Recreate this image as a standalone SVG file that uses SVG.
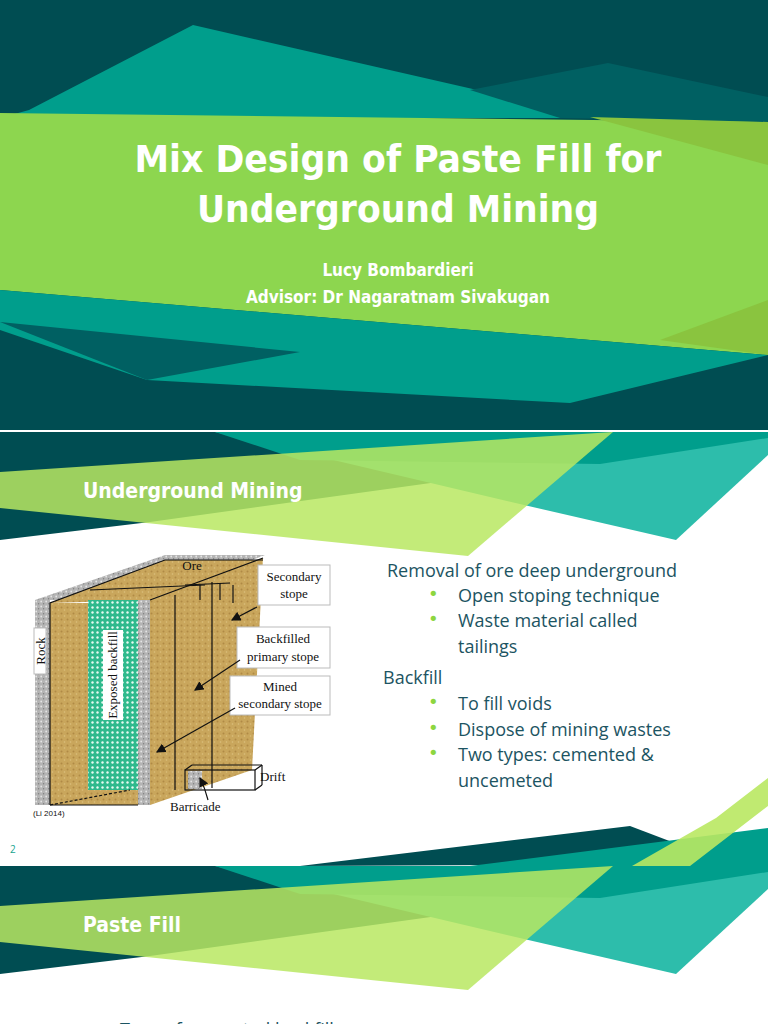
<svg xmlns="http://www.w3.org/2000/svg" width="768" height="1024" viewBox="0 0 768 1024">
<style>
.t{font-family:"DejaVu Sans Condensed","DejaVu Sans",sans-serif;fill:#fff}
.b{font-family:"Open Sans","DejaVu Sans",sans-serif;font-size:18px;fill:#1c5462}
.dot{fill:#8dd63f;font-family:"DejaVu Sans",sans-serif;font-size:18px}
.s{font-family:"Liberation Serif",serif;font-size:13px;fill:#111}
.ln{stroke:#111;stroke-width:1.2;fill:none}
.lb{fill:#fff;stroke:#bbb;stroke-width:1}
</style>
<defs>
<pattern id="tan" width="6" height="6" patternUnits="userSpaceOnUse"><rect width="6" height="6" fill="#c9a65c"/><circle cx="1.5" cy="1.5" r="1" fill="#b08a45"/><circle cx="4.5" cy="4" r="0.8" fill="#dcc07e"/></pattern>
<pattern id="grn" width="5" height="5" patternUnits="userSpaceOnUse"><rect width="5" height="5" fill="#2fb98c"/><circle cx="2.5" cy="2.5" r="1.2" fill="#e8fbf2"/></pattern>
<pattern id="rock" width="5" height="5" patternUnits="userSpaceOnUse"><rect width="5" height="5" fill="#b4b4b4"/><circle cx="1.2" cy="1.5" r="0.9" fill="#e6e6e6"/><circle cx="3.6" cy="3.8" r="0.7" fill="#808080"/></pattern>
<marker id="ah" markerWidth="8" markerHeight="8" refX="7" refY="4" orient="auto"><path d="M0,0 L8,4 L0,8 z" fill="#111"/></marker>
<g id="hdr">
<polygon points="0,0 768,0 768,4 150,90 0,108" fill="#004d52"/>
<polygon points="215,0 768,0 768,23 676,108 524,73" fill="#2dbdab"/>
<polygon points="215,0 768,0 768,6 600,32 300,28" fill="#009e8c"/>
<polygon points="0,40 613,0 468,124 0,76" fill="#b9e862" opacity="0.85"/>
</g>
</defs>
<rect width="768" height="1024" fill="#fff"/>
<g id="slide1">
<rect x="0" y="0" width="768" height="430" fill="#004d52"/>
<polygon points="29,110 193,25 600,118 0,118" fill="#009e8c"/>
<polygon points="470,90 608,63 768,97 768,122 560,118" fill="#006062"/>
<polygon points="0,113 768,122 768,355 0,290" fill="#8dd64f"/>
<polygon points="590,117 768,122 768,165" fill="#8ac43f"/>
<polygon points="660,340 768,300 768,355" fill="#8ac43f"/>
<polygon points="0,290 768,355 570,403 147,380 0,330" fill="#009e8c"/>
<polygon points="0,322 300,352 147,380" fill="#006062"/>
<text class="t" x="398" y="172" font-size="37" font-weight="bold" text-anchor="middle" textLength="527" lengthAdjust="spacingAndGlyphs">Mix Design of Paste Fill for</text>
<text class="t" x="398" y="222" font-size="37" font-weight="bold" text-anchor="middle" textLength="402" lengthAdjust="spacingAndGlyphs">Underground Mining</text>
<text class="t" x="398" y="276" font-size="17" font-weight="bold" text-anchor="middle">Lucy Bombardieri</text>
<text class="t" x="398" y="303" font-size="17" font-weight="bold" text-anchor="middle">Advisor: Dr Nagaratnam Sivakugan</text>
</g>
<g id="slide2">
<use href="#hdr" y="432"/>
<text class="t" x="83" y="498" font-size="21" font-weight="bold">Underground Mining</text>
<text class="b" x="387" y="577">Removal of ore deep underground</text>
<text class="dot" x="428" y="600">•</text><text class="b" x="458" y="602">Open stoping technique</text>
<text class="dot" x="428" y="625">•</text><text class="b" x="458" y="627">Waste material called</text>
<text class="b" x="458" y="653">tailings</text>
<text class="b" x="383" y="684">Backfill</text>
<text class="dot" x="428" y="708">•</text><text class="b" x="458" y="710">To fill voids</text>
<text class="dot" x="428" y="734">•</text><text class="b" x="458" y="736">Dispose of mining wastes</text>
<text class="dot" x="428" y="759">•</text><text class="b" x="458" y="761">Two types: cemented &amp;</text>
<text class="b" x="458" y="787">uncemeted</text>
<text x="10" y="853" font-family="Open Sans,sans-serif" font-size="10" fill="#1aa58f">2</text>
<polygon points="300,866 630,826 730,864" fill="#004d52"/>
<polygon points="470,866 768,828 768,866" fill="#009e8c"/>
<polygon points="632,866 716,818 768,778 768,806 690,866" fill="#b9e862" opacity="0.9"/>
</g>
<g id="figure">
<polygon points="35,600 165,555 265,555 150,600" fill="url(#rock)"/>
<polygon points="50,603 165,560 263,560 150,600" fill="url(#tan)"/>
<rect x="35" y="600" width="15" height="205" fill="url(#rock)"/>
<rect x="50" y="603" width="88" height="202" fill="url(#tan)"/>
<rect x="88" y="600" width="50" height="190" fill="url(#grn)"/>
<rect x="138" y="600" width="12" height="205" fill="url(#rock)"/>
<polygon points="150,600 263,558 252,770 150,805" fill="url(#tan)"/>
<g class="ln">
<polyline points="50,805 50,603 165,560 263,560"/>
<line x1="150" y1="600" x2="263" y2="558"/>
<line x1="138" y1="805" x2="50" y2="805"/>
<line x1="175" y1="595" x2="175" y2="790"/>
<line x1="212" y1="582" x2="212" y2="788"/>
<line x1="90" y1="590" x2="205" y2="585"/>
<line x1="185" y1="585" x2="230" y2="583"/>
<line x1="200" y1="585" x2="200" y2="600"/>
<line x1="220" y1="583" x2="220" y2="600"/>
<line x1="233" y1="585" x2="233" y2="603"/>
<rect x="185" y="770" width="70" height="20"/>
<line x1="185" y1="770" x2="192" y2="765"/>
<line x1="255" y1="770" x2="262" y2="765"/>
<line x1="192" y1="765" x2="262" y2="765"/>
<line x1="262" y1="765" x2="262" y2="785"/>
<line x1="262" y1="785" x2="255" y2="790"/>
<line x1="50" y1="805" x2="130" y2="790" stroke-dasharray="3 2"/>
</g>
<rect x="188" y="771" width="14" height="18" fill="url(#rock)"/>
<rect class="lb" x="258" y="565" width="72" height="40"/>
<text class="s" x="294" y="581" text-anchor="middle">Secondary</text>
<text class="s" x="294" y="598" text-anchor="middle">stope</text>
<rect class="lb" x="237" y="627" width="93" height="41"/>
<text class="s" x="283" y="643" text-anchor="middle">Backfilled</text>
<text class="s" x="283" y="661" text-anchor="middle">primary stope</text>
<rect class="lb" x="230" y="676" width="100" height="39"/>
<text class="s" x="280" y="691" text-anchor="middle">Mined</text>
<text class="s" x="280" y="708" text-anchor="middle">secondary stope</text>
<rect class="lb" x="34" y="628" width="12" height="46"/>
<text class="s" transform="translate(45,651) rotate(-90)" text-anchor="middle">Rock</text>
<rect x="103" y="630" width="20" height="90" fill="#fff"/>
<text class="s" transform="translate(117,675) rotate(-90)" text-anchor="middle">Exposed backfill</text>
<text class="s" x="192" y="570" text-anchor="middle">Ore</text>
<text class="s" x="260" y="781" font-size="17">Drift</text>
<text class="s" x="170" y="811" font-size="15">Barricade</text>
<text x="33" y="816" font-family="Liberation Sans,sans-serif" font-size="8" fill="#111">(Li 2014)</text>
</g>
<g id="connectors">
<line class="ln" x1="257" y1="607" x2="232" y2="620" marker-end="url(#ah)"/>
<line class="ln" x1="240" y1="660" x2="195" y2="690" marker-end="url(#ah)"/>
<line class="ln" x1="235" y1="708" x2="157" y2="752" marker-end="url(#ah)"/>
<path class="ln" d="M208,800 Q205,788 200,778" marker-end="url(#ah)"/>
</g>
<g id="slide3">
<use href="#hdr" y="866"/>
<text class="t" x="83" y="932" font-size="21" font-weight="bold">Paste Fill</text>
<text class="b" x="120" y="1036" font-size="24">Type of cemented backfill</text>
</g>
</svg>
